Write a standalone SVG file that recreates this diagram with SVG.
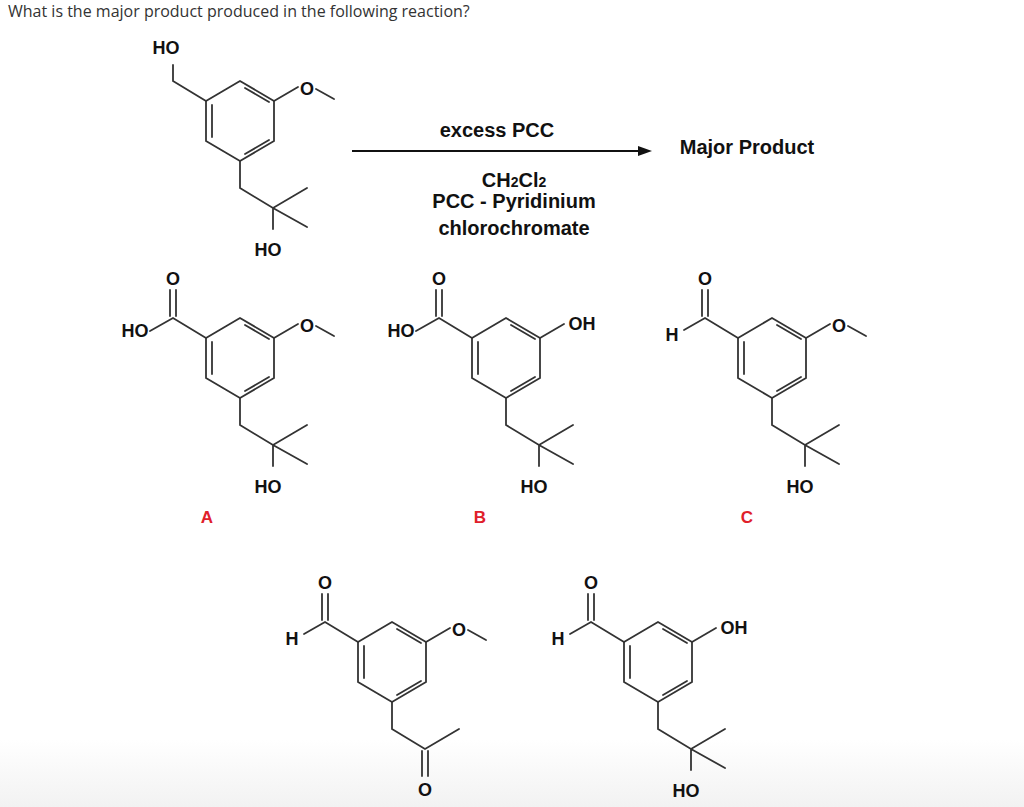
<svg xmlns="http://www.w3.org/2000/svg" width="1024" height="807" viewBox="0 0 1024 807" xmlns:xlink="http://www.w3.org/1999/xlink">
<style>
.b{stroke:#333;stroke-width:1.8;fill:none;stroke-linecap:round}
.t{font-family:"Liberation Sans",Arial,sans-serif;font-size:18px;font-weight:bold;fill:#111;text-anchor:middle}
.r{font-family:"Liberation Sans",Arial,sans-serif;font-size:20px;font-weight:bold;fill:#111;text-anchor:middle}
.l{font-family:"Liberation Sans",Arial,sans-serif;font-size:17px;font-weight:bold;text-anchor:middle}
</style>
<defs>
<linearGradient id="bg" x1="0" y1="0" x2="0" y2="1"><stop offset="0" stop-color="#fff"/><stop offset="1" stop-color="#f2f2f2"/></linearGradient>
<g id="ring">
<path class="b" d="M0,-40 L-34,-20 L-34,20 L0,40 L34,20 L34,-20 Z M-28,-16 L-28,16 M5,33 L29,19 M5,-33 L29,-19"/>
</g>
<g id="ome">
<path class="b" d="M34,-20 L58,-34 M76,-32 L94,-22"/>
<text class="t" x="67" y="-26">O</text>
</g>
<g id="ohr">
<path class="b" d="M34,-20 L58,-34"/>
<text class="t" x="76" y="-28">OH</text>
</g>
<g id="tail">
<path class="b" d="M0,40 L0,67 L33,87 L67,67 M33,87 L67,106 M33,87 L33,108"/>
<text class="t" x="28" y="135">HO</text>
</g>
<g id="acid">
<path class="b" d="M-34,-20 L-67,-40 L-90,-27 M-64,-42 L-64,-68 M-70,-42 L-70,-68"/>
<text class="t" x="-67" y="-73">O</text>
<text class="t" x="-105" y="-21">HO</text>
</g>
<g id="ald">
<path class="b" d="M-34,-20 L-67,-40 L-88,-28 M-64,-42 L-64,-68 M-70,-42 L-70,-68"/>
<text class="t" x="-67" y="-73">O</text>
<text class="t" x="-100" y="-17">H</text>
</g>
</defs>
<rect width="1024" height="807" fill="#fff"/>
<rect x="0" y="740" width="1024" height="67" fill="url(#bg)"/>
<text x="8" y="17" style="font-family:'Open Sans','Noto Sans',sans-serif;font-size:16px;fill:#333">What is the major product produced in the following reaction?</text>
<g id="start" transform="translate(240,121)">
<use xlink:href="#ring"/><use xlink:href="#ome"/><use xlink:href="#tail"/>
<path class="b" d="M-34,-20 L-67,-40 L-67,-56"/>
<text class="t" x="-74" y="-67">HO</text>
</g>
<g id="connectors">
<path d="M352,151 L640,151" stroke="#111" stroke-width="2"/>
<path d="M652,151 L638,146 L638,156 Z" fill="#111"/>
</g>
<g id="conditions">
<text class="r" x="497" y="137">excess PCC</text>
<text class="r" x="514" y="187">CH<tspan font-size="14">2</tspan>Cl<tspan font-size="14">2</tspan></text>
<text class="r" x="514" y="208">PCC - Pyridinium</text>
<text class="r" x="514" y="235">chlorochromate</text>
<text class="r" x="747" y="154">Major Product</text>
</g>
<g id="A" transform="translate(240,358)">
<use xlink:href="#ring"/><use xlink:href="#ome"/><use xlink:href="#tail"/><use xlink:href="#acid"/>
</g>
<g id="B" transform="translate(506,358)">
<use xlink:href="#ring"/><use xlink:href="#ohr"/><use xlink:href="#tail"/><use xlink:href="#acid"/>
</g>
<g id="C" transform="translate(772,358)">
<use xlink:href="#ring"/><use xlink:href="#ome"/><use xlink:href="#tail"/><use xlink:href="#ald"/>
</g>
<g id="D" transform="translate(392,662)">
<use xlink:href="#ring"/><use xlink:href="#ome"/><use xlink:href="#ald"/>
<path class="b" d="M0,40 L0,67 L33,87 L67,67 M30,89 L30,114 M36,89 L36,114"/>
<text class="t" x="33" y="134">O</text>
</g>
<g id="E" transform="translate(658,662)">
<use xlink:href="#ring"/><use xlink:href="#ohr"/><use xlink:href="#tail"/><use xlink:href="#ald"/>
</g>
<g id="labels">
<text class="l" x="207" y="523" fill="#e0202a">A</text>
<text class="l" x="480" y="523" fill="#e0202a">B</text>
<text class="l" x="747" y="523" fill="#e0202a">C</text>
</g>
</svg>
